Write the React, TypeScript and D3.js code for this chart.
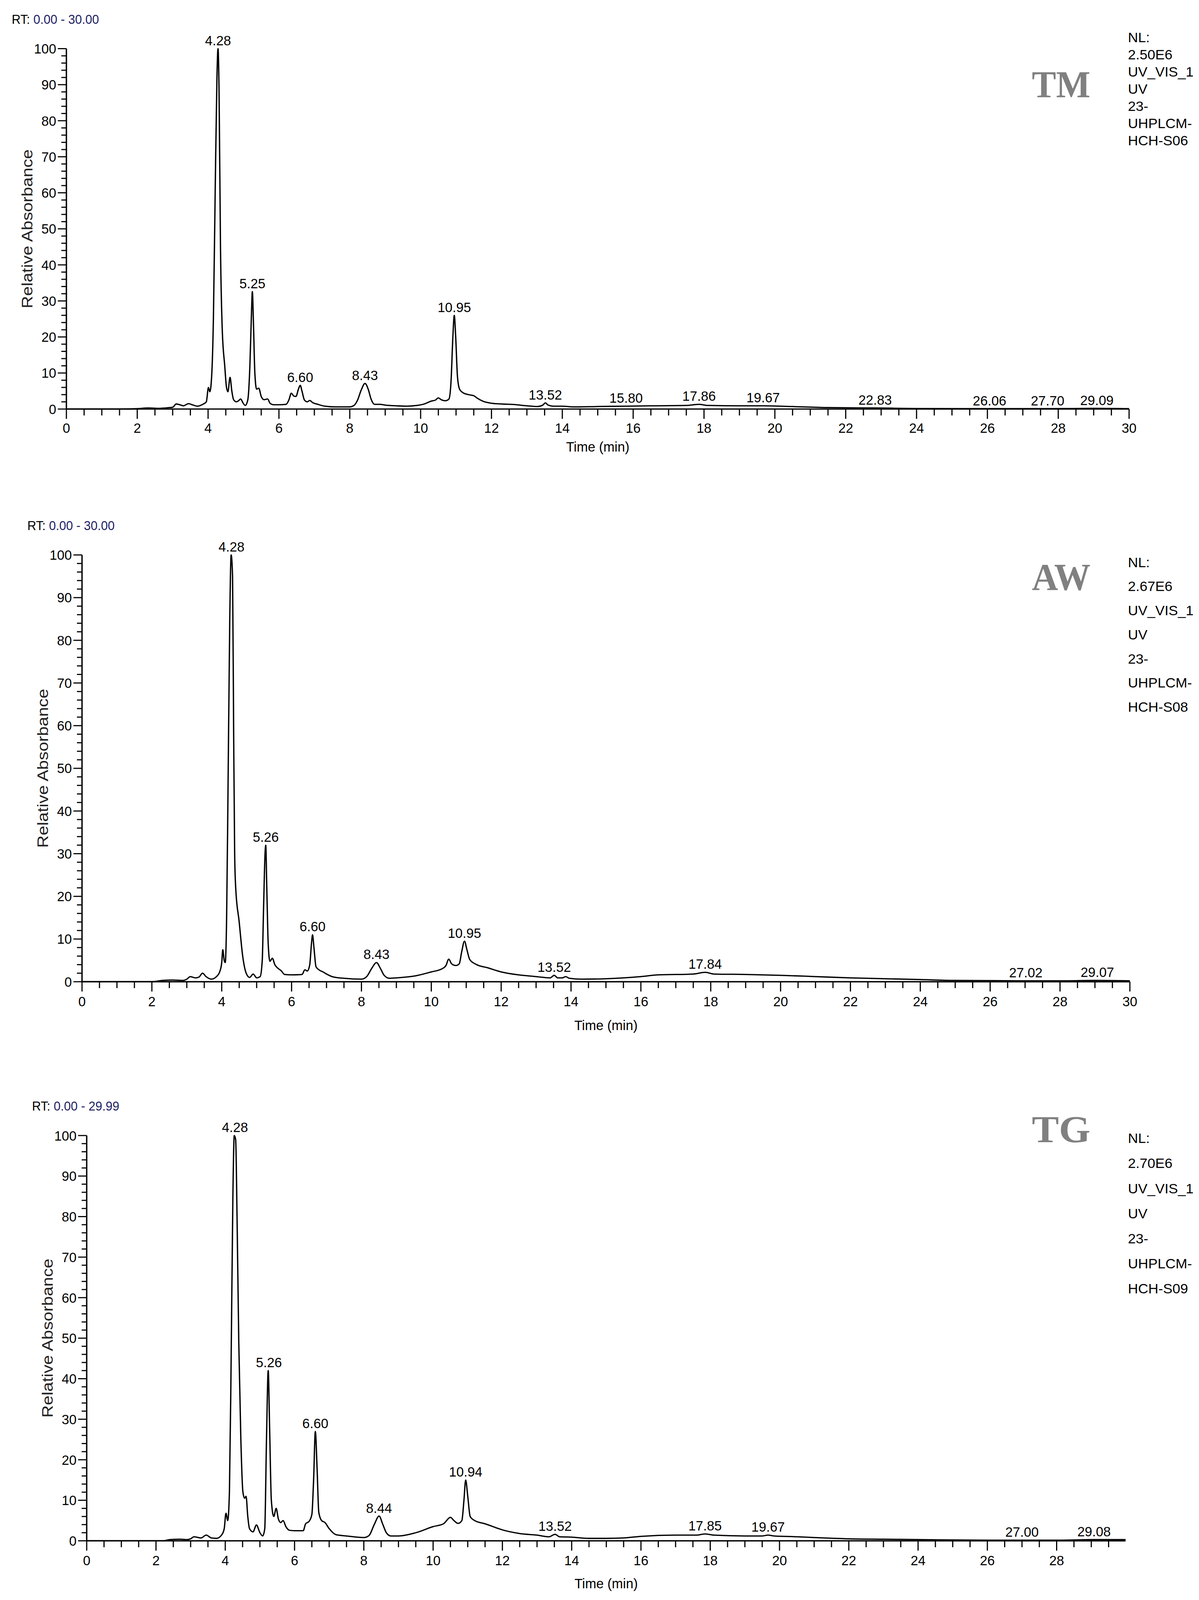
import React from 'react';
import * as d3 from 'd3';

type Pt = [number, number];

// ---------- data (time in min, relative absorbance in %) ----------
const tmSeries: Pt[] = [
  [0, 0], [1.5, 0], [2.0, 0.1], [2.3, 0.3], [2.6, 0.2], [2.9, 0.4], [3.0, 0.5], [3.1, 1.4], [3.2, 1.2], [3.3, 0.9],
  [3.45, 1.5], [3.55, 1.2], [3.7, 0.8], [3.85, 1.3], [3.95, 2.0], [4.01, 6.0], [4.05, 4.8], [4.1, 9], [4.15, 25],
  [4.2, 60], [4.25, 92], [4.28, 100], [4.31, 88], [4.35, 45], [4.4, 22], [4.47, 12], [4.52, 6], [4.56, 4.8],
  [4.62, 8.8], [4.67, 5], [4.72, 2.6], [4.8, 2.0], [4.86, 2.3], [4.92, 2.8], [4.98, 1.8], [5.05, 1.0], [5.12, 2.5],
  [5.18, 12], [5.22, 25], [5.25, 32.6], [5.28, 24], [5.32, 10], [5.37, 5.5], [5.43, 5.8], [5.5, 3.5], [5.58, 2.6],
  [5.68, 2.8], [5.75, 1.6], [5.85, 1.2], [6.0, 1.2], [6.2, 1.3], [6.28, 2.5], [6.35, 4.4], [6.42, 3.6], [6.48, 3.5],
  [6.55, 5.5], [6.6, 6.6], [6.65, 5], [6.72, 2.5], [6.8, 2.0], [6.87, 2.4], [6.95, 1.8], [7.1, 1.3], [7.3, 0.8],
  [7.6, 0.6], [8.0, 0.6], [8.12, 1.0], [8.22, 2.5], [8.32, 5.2], [8.43, 7.1], [8.52, 5.5], [8.6, 2.8], [8.7, 1.3],
  [8.85, 1.3], [9.0, 1.1], [9.3, 0.9], [9.6, 0.8], [9.9, 1.0], [10.1, 1.4], [10.3, 2.2], [10.42, 2.5], [10.5, 3.1],
  [10.58, 2.6], [10.7, 2.3], [10.8, 2.8], [10.86, 8], [10.91, 20], [10.95, 26], [10.99, 20], [11.04, 9], [11.1, 5.5],
  [11.2, 4.5], [11.35, 4.0], [11.5, 3.7], [11.6, 3.0], [11.75, 2.2], [12.0, 1.6], [12.3, 1.4], [12.7, 1.2], [13.0, 0.9],
  [13.3, 0.7], [13.45, 1.1], [13.52, 1.7], [13.6, 1.1], [13.75, 0.8], [14.0, 0.8], [14.3, 0.6], [15.0, 0.7],
  [15.8, 0.8], [16.5, 0.9], [17.5, 1.0], [17.86, 1.3], [18.1, 1.0], [19.0, 0.9], [19.67, 0.9], [20.5, 0.7],
  [21.5, 0.4], [22.83, 0.3], [24, 0.15], [26.06, 0.1], [27.7, 0.1], [29.09, 0.2], [30, 0.1],
];

const awSeries: Pt[] = [
  [0, 0], [2.0, 0], [2.3, 0.3], [2.6, 0.4], [2.9, 0.3], [3.0, 0.6], [3.1, 1.2], [3.25, 0.9], [3.35, 1.1], [3.45, 2.0],
  [3.55, 1.2], [3.7, 0.6], [3.85, 1.2], [3.95, 2.5], [4.0, 4.5], [4.03, 7.5], [4.07, 5], [4.1, 4.5], [4.14, 15],
  [4.18, 45], [4.23, 85], [4.27, 100], [4.31, 95], [4.34, 60], [4.37, 30], [4.4, 22], [4.5, 14], [4.6, 6], [4.7, 2],
  [4.8, 1.0], [4.9, 1.8], [5.0, 0.9], [5.1, 1.2], [5.16, 5], [5.2, 18], [5.24, 30], [5.26, 32], [5.29, 22], [5.33, 9],
  [5.38, 4.8], [5.45, 5.5], [5.52, 4], [5.6, 3.2], [5.7, 2.6], [5.8, 1.7], [6.0, 1.6], [6.3, 1.7], [6.38, 2.8],
  [6.45, 2.5], [6.52, 4], [6.57, 9], [6.6, 11], [6.64, 8], [6.7, 3.5], [6.8, 2.7], [6.9, 2.3], [7.0, 1.8], [7.2, 1.1],
  [7.5, 0.8], [8.0, 0.6], [8.15, 1.2], [8.3, 3.2], [8.43, 4.5], [8.55, 3], [8.65, 1.5], [8.8, 0.8], [9.0, 0.9],
  [9.5, 1.3], [10.0, 2.3], [10.3, 3.0], [10.42, 3.8], [10.5, 5.3], [10.58, 4.2], [10.7, 3.8], [10.8, 4.2], [10.87, 7],
  [10.95, 9.5], [11.02, 7.5], [11.1, 5.2], [11.3, 4.0], [11.6, 3.3], [12.0, 2.3], [12.5, 1.6], [13.0, 1.2], [13.4, 0.9],
  [13.52, 1.5], [13.62, 0.9], [13.75, 0.9], [13.85, 1.2], [13.95, 0.8], [14.3, 0.6], [15.0, 0.7], [15.5, 0.9],
  [16, 1.2], [16.5, 1.6], [17.5, 1.8], [17.84, 2.2], [18.1, 1.8], [19, 1.7], [20, 1.5], [21, 1.2], [22, 0.9], [23, 0.7],
  [24, 0.5], [25, 0.3], [26, 0.25], [27.02, 0.2], [28, 0.2], [29.07, 0.3], [30, 0.2],
];

const tgSeries: Pt[] = [
  [0, 0], [2.2, 0], [2.4, 0.3], [2.7, 0.4], [2.9, 0.3], [3.0, 0.5], [3.1, 1.0], [3.3, 0.7], [3.45, 1.4], [3.6, 0.7],
  [3.75, 0.6], [3.9, 1.5], [3.97, 3], [4.02, 6.8], [4.07, 5], [4.12, 12], [4.17, 45], [4.22, 85], [4.26, 100],
  [4.3, 99], [4.34, 80], [4.39, 49], [4.45, 25], [4.51, 12], [4.56, 10.5], [4.6, 11], [4.65, 6], [4.7, 3], [4.8, 2.2],
  [4.9, 3.9], [5.0, 2], [5.08, 1.2], [5.14, 3], [5.19, 25], [5.24, 42], [5.28, 28], [5.33, 10], [5.4, 6], [5.47, 8],
  [5.53, 5.5], [5.6, 4.5], [5.67, 5], [5.75, 3.5], [5.85, 2.6], [6.0, 2.5], [6.25, 2.5], [6.32, 4.2], [6.42, 4.8],
  [6.5, 6.5], [6.55, 15], [6.6, 27], [6.65, 18], [6.7, 7], [6.78, 5], [6.88, 4.5], [7.0, 3], [7.2, 1.5], [7.5, 1.2],
  [8.0, 0.8], [8.15, 1.3], [8.3, 4], [8.44, 6.1], [8.55, 4], [8.65, 2], [8.78, 1.2], [9.0, 1.2], [9.5, 2.0], [10.0, 3.5],
  [10.3, 4.2], [10.5, 5.8], [10.6, 5], [10.72, 4.3], [10.83, 5], [10.89, 10], [10.94, 15], [11.0, 11], [11.07, 6],
  [11.2, 5], [11.5, 4.2], [12.0, 2.7], [12.5, 1.8], [13.0, 1.4], [13.35, 1.0], [13.52, 1.6], [13.65, 1.0], [14.0, 0.9],
  [14.5, 0.6], [15.0, 0.6], [15.5, 0.7], [16.0, 1.1], [17.0, 1.4], [17.6, 1.4], [17.85, 1.7], [18.1, 1.4], [19.0, 1.2],
  [19.5, 1.2], [19.67, 1.4], [19.85, 1.2], [20.5, 1.0], [21, 0.8], [22, 0.5], [23, 0.4], [24.5, 0.25], [26, 0.15],
  [27, 0.15], [28, 0.15], [29.08, 0.3], [29.99, 0.3],
];

const tmPeakLabels = ['4.28', '5.25', '6.60', '8.43', '10.95', '13.52', '15.80', '17.86', '19.67', '22.83', '26.06', '27.70', '29.09'];
const awPeakLabels = ['4.28', '5.26', '6.60', '8.43', '10.95', '13.52', '17.84', '27.02', '29.07'];
const tgPeakLabels = ['4.28', '5.26', '6.60', '8.44', '10.94', '13.52', '17.85', '19.67', '27.00', '29.08'];

const tmInfo = ['NL:', '2.50E6', 'UV_VIS_1', 'UV', '23-', 'UHPLCM-', 'HCH-S06'];
const awInfo = ['NL:', '2.67E6', 'UV_VIS_1', 'UV', '23-', 'UHPLCM-', 'HCH-S08'];
const tgInfo = ['NL:', '2.70E6', 'UV_VIS_1', 'UV', '23-', 'UHPLCM-', 'HCH-S09'];

const xTicksFull = [0, 2, 4, 6, 8, 10, 12, 14, 16, 18, 20, 22, 24, 26, 28, 30];
const xTicksShort = [0, 2, 4, 6, 8, 10, 12, 14, 16, 18, 20, 22, 24, 26, 28];
const yTicks = [0, 10, 20, 30, 40, 50, 60, 70, 80, 90, 100];

// ---------- layout ----------
const W = 3070;
const H = 4244;
const FONT = "'Liberation Sans', Arial, Helvetica, sans-serif";
const SERIF = "'Liberation Serif', 'Times New Roman', serif";

const panels = [
  { name: 'TM', series: tmSeries, labels: tmPeakLabels, info: tmInfo, xTicks: xTicksFull, rt: '0.00 - 30.00', tMax: 30,
    x0: 170, x1: 2891, y0: 1085, y100: 129, nameY: 258, infoY: 100, infoStep: 45.5, tickLabelDy: 50, titleDy: 100 },
  { name: 'AW', series: awSeries, labels: awPeakLabels, info: awInfo, xTicks: xTicksFull, rt: '0.00 - 30.00', tMax: 30,
    x0: 210, x1: 2893, y0: 2604, y100: 1472, nameY: 1565, infoY: 1492, infoStep: 64, tickLabelDy: 52, titleDy: 115 },
  { name: 'TG', series: tgSeries, labels: tgPeakLabels, info: tgInfo, xTicks: xTicksShort, rt: '0.00 - 29.99', tMax: 29.99,
    x0: 222, x1: 2882, y0: 4087, y100: 3012, nameY: 3030, infoY: 3020, infoStep: 66.5, tickLabelDy: 52, titleDy: 113 },
];

const SX = 0.95;

function Txt({ x, y, anchor = 'middle', size = 36, sx = SX, children, fill = '#000' }: any) {
  return (
    <text transform={`translate(${x},${y}) scale(${sx},1)`} textAnchor={anchor} fontFamily={FONT}
      fontSize={size} fill={fill}>{children}</text>
  );
}

function Panel({ p }: { p: typeof panels[number] }) {
  const x = d3.scaleLinear().domain([0, p.tMax]).range([p.x0, p.x1]);
  const y = d3.scaleLinear().domain([0, 100]).range([p.y0, p.y100]);
  const line = d3.line<Pt>().x(d => x(d[0])).y(d => y(d[1])).curve(d3.curveMonotoneX);
  const minorX = d3.range(0, p.tMax + 1e-6, 0.5).filter(t => Math.abs(t / 2 - Math.round(t / 2)) > 1e-6);
  const minorY = d3.range(0, 100.001, 2).filter(v => v % 10 !== 0);
  const midY = (p.y0 + p.y100) / 2;
  return (
    <g>
      {/* RT label */}
      <text transform={`translate(${p.x0 - 140},${p.y100 - 66}) scale(0.9,1)`} fontFamily={FONT} fontSize={35}>
        <tspan fill="#000">RT: </tspan><tspan fill="#1e2266">{p.rt}</tspan>
      </text>
      {/* y axis */}
      <line x1={p.x0} x2={p.x0} y1={p.y0} y2={p.y100} stroke="#000" strokeWidth={3.5} />
      {yTicks.map(v => (
        <g key={'yt' + v}>
          <line x1={p.x0 - 22} x2={p.x0} y1={y(v)} y2={y(v)} stroke="#000" strokeWidth={3} />
          <Txt x={p.x0 - 26} y={y(v) + 13} anchor="end">{v}</Txt>
        </g>
      ))}
      {minorY.map(v => (
        <line key={'ym' + v} x1={p.x0 - 13} x2={p.x0} y1={y(v)} y2={y(v)} stroke="#000" strokeWidth={3} />
      ))}
      <text transform={`translate(${p.x0 - 100},${midY}) rotate(-90)`} textAnchor="middle" fontFamily={FONT}
        fontSize={38} fill="#222" textLength={422} lengthAdjust="spacingAndGlyphs" dy={13}>Relative Absorbance</text>
      {/* x axis */}
      <line x1={p.x0} x2={p.x1} y1={p.y0} y2={p.y0} stroke="#000" strokeWidth={3.5} />
      {p.xTicks.map(t => (
        <g key={'xt' + t}>
          <line x1={x(t)} x2={x(t)} y1={p.y0} y2={p.y0 + 26} stroke="#000" strokeWidth={3} />
          <Txt x={x(t)} y={p.y0 + p.tickLabelDy + 13}>{t}</Txt>
        </g>
      ))}
      {minorX.map(t => (
        <line key={'xm' + t} x1={x(t)} x2={x(t)} y1={p.y0} y2={p.y0 + 17} stroke="#000" strokeWidth={3} />
      ))}
      <Txt x={(p.x0 + p.x1) / 2} y={p.y0 + p.titleDy + 13}>Time (min)</Txt>
      {/* trace */}
      <path d={line(p.series) || ''} fill="none" stroke="#000" strokeWidth={3.4} strokeLinejoin="round" />
      {/* peak labels */}
      {p.labels.map(l => {
        const t = parseFloat(l);
        const near = p.series.filter(d => Math.abs(d[0] - t) <= 0.1);
        const vmax = d3.max(near, d => d[1]) ?? 0;
        return <Txt key={'pl' + l} x={x(t)} y={y(vmax) - 9}>{l}</Txt>;
      })}
      {/* sample name */}
      <text x={2642} y={p.nameY} fontFamily={SERIF} fontWeight="bold" fontSize={100} fill="#808080"
        textLength={150} lengthAdjust="spacingAndGlyphs">{p.name}</text>
      {/* info block */}
      {p.info.map((s, i) => (
        <Txt key={'inf' + i} x={2888} y={p.infoY + i * p.infoStep + 12} anchor="start" sx={1.0}>{s}</Txt>
      ))}
    </g>
  );
}

export default function App() {
  return (
    <svg viewBox={`0 0 ${W} ${H}`} preserveAspectRatio="none"
      style={{ position: 'absolute', left: 0, top: 0, width: '100vw', height: '100vh', background: '#fff', display: 'block' }}>
      <rect x={0} y={0} width={W} height={H} fill="#fff" />
      {panels.map(p => <Panel key={p.name} p={p} />)}
    </svg>
  );
}
